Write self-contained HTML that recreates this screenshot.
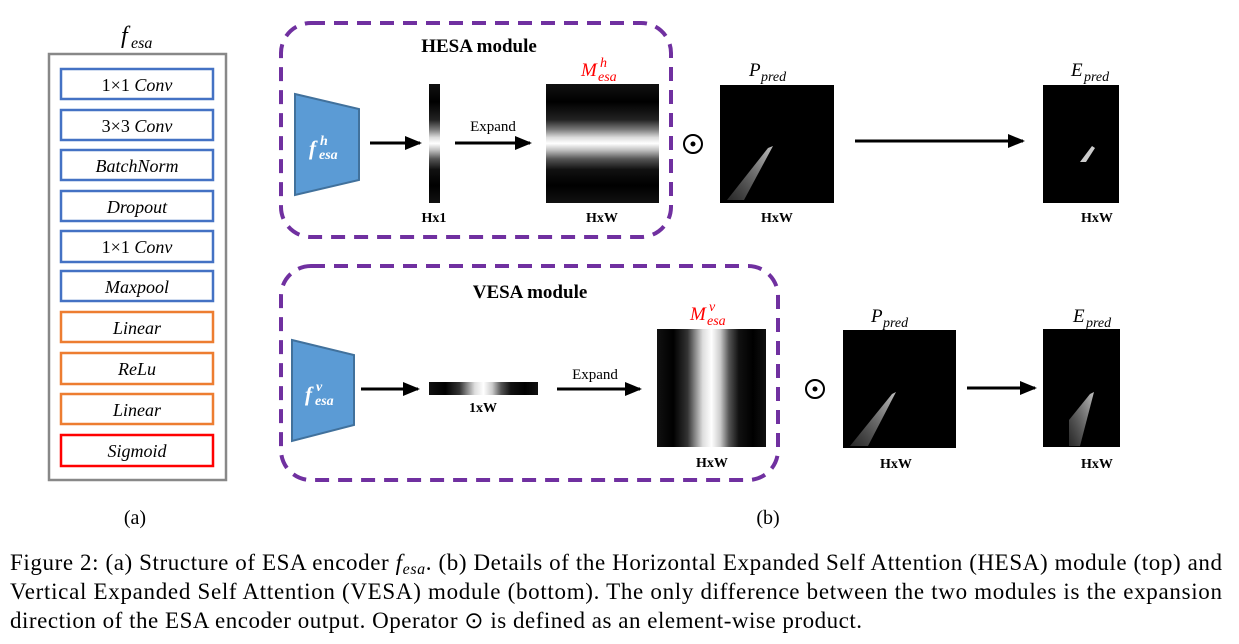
<!DOCTYPE html>
<html><head><meta charset="utf-8"><style>
body{margin:0;background:#fff;}
svg{display:block}
.b{font-family:"Liberation Serif",serif;font-weight:bold;}
.s{font-family:"Liberation Serif",serif;}
.m{font-family:"Liberation Serif",serif;font-style:italic;}
</style></head><body>
<svg width="1239" height="644" viewBox="0 0 1239 644" xmlns="http://www.w3.org/2000/svg">
<defs>
<linearGradient id="gv" x1="0" y1="0" x2="0" y2="1">
<stop offset="0" stop-color="#111"/><stop offset="0.15" stop-color="#000"/><stop offset="0.3" stop-color="#222"/>
<stop offset="0.38" stop-color="#777"/><stop offset="0.45" stop-color="#ddd"/><stop offset="0.5" stop-color="#fff"/>
<stop offset="0.56" stop-color="#bbb"/><stop offset="0.63" stop-color="#555"/><stop offset="0.72" stop-color="#111"/>
<stop offset="0.85" stop-color="#000"/><stop offset="1" stop-color="#111"/>
</linearGradient>
<linearGradient id="gh" x1="0" y1="0" x2="1" y2="0">
<stop offset="0" stop-color="#111"/><stop offset="0.15" stop-color="#000"/><stop offset="0.28" stop-color="#333"/>
<stop offset="0.35" stop-color="#888"/><stop offset="0.42" stop-color="#ddd"/><stop offset="0.5" stop-color="#fff"/>
<stop offset="0.58" stop-color="#ccc"/><stop offset="0.66" stop-color="#555"/><stop offset="0.75" stop-color="#111"/>
<stop offset="0.88" stop-color="#000"/><stop offset="1" stop-color="#111"/>
</linearGradient>
<marker id="ar" markerWidth="18" markerHeight="14" refX="15" refY="7" orient="auto" markerUnits="userSpaceOnUse">
<path d="M0,0 L17,7 L0,14 z" fill="#000"/></marker>
<linearGradient id="streak" x1="0" y1="1" x2="1" y2="0">
<stop offset="0" stop-color="#555" stop-opacity="0.6"/><stop offset="1" stop-color="#eee"/></linearGradient>
</defs>

<!-- left panel -->
<text x="121" y="43" class="m" font-size="24">f</text><text x="131" y="48" class="m" font-size="16">esa</text>
<rect x="49" y="54" width="177" height="426" fill="none" stroke="#888" stroke-width="2.5"/>
<g font-family="Liberation Serif,serif" font-style="italic" font-size="18" text-anchor="middle" fill="#000">
<rect x="61" y="69" width="152" height="30" fill="none" stroke="#4472c4" stroke-width="2.5"/><text x="137" y="91"><tspan font-style="normal">1×1 </tspan>Conv</text>
<rect x="61" y="110" width="152" height="30" fill="none" stroke="#4472c4" stroke-width="2.5"/><text x="137" y="132"><tspan font-style="normal">3×3 </tspan>Conv</text>
<rect x="61" y="150" width="152" height="30" fill="none" stroke="#4472c4" stroke-width="2.5"/><text x="137" y="172">BatchNorm</text>
<rect x="61" y="191" width="152" height="30" fill="none" stroke="#4472c4" stroke-width="2.5"/><text x="137" y="213">Dropout</text>
<rect x="61" y="231" width="152" height="31" fill="none" stroke="#4472c4" stroke-width="2.5"/><text x="137" y="253"><tspan font-style="normal">1×1 </tspan>Conv</text>
<rect x="61" y="271" width="152" height="30" fill="none" stroke="#4472c4" stroke-width="2.5"/><text x="137" y="293">Maxpool</text>
<rect x="61" y="312" width="152" height="30" fill="none" stroke="#ed7d31" stroke-width="2.5"/><text x="137" y="334">Linear</text>
<rect x="61" y="353" width="152" height="31" fill="none" stroke="#ed7d31" stroke-width="2.5"/><text x="137" y="375">ReLu</text>
<rect x="61" y="394" width="152" height="30" fill="none" stroke="#ed7d31" stroke-width="2.5"/><text x="137" y="416">Linear</text>
<rect x="61" y="435" width="152" height="31" fill="none" stroke="#ff0000" stroke-width="2.5"/><text x="137" y="457">Sigmoid</text>
</g>
<text x="135" y="524" class="s" font-size="20" text-anchor="middle">(a)</text>
<text x="768" y="524" class="s" font-size="20" text-anchor="middle">(b)</text>

<!-- HESA -->
<rect x="281" y="23" width="390" height="214" rx="30" fill="none" stroke="#7030a0" stroke-width="4" stroke-dasharray="14,9"/>
<text x="479" y="52" class="b" font-size="19" text-anchor="middle">HESA module</text>
<polygon points="295,94 359,109 359,180 295,195" fill="#5b9bd5" stroke="#41719c" stroke-width="2"/>
<g class="m" fill="#fff" font-weight="bold"><text x="309" y="155" font-size="21">f</text><text x="319" y="159" font-size="14">esa</text><text x="320" y="145" font-size="14">h</text></g>
<line x1="370" y1="143" x2="420" y2="143" stroke="#000" stroke-width="3" marker-end="url(#ar)"/>
<rect x="429" y="84" width="11" height="119" fill="url(#gv)"/>
<text x="434" y="222" class="b" font-size="14" text-anchor="middle">Hx1</text>
<text x="493" y="131" class="s" font-size="15" text-anchor="middle">Expand</text>
<line x1="455" y1="143" x2="530" y2="143" stroke="#000" stroke-width="3" marker-end="url(#ar)"/>
<rect x="546" y="84" width="113" height="119" fill="url(#gv)"/>
<g class="m" fill="#ff0000"><text x="581" y="76" font-size="19">M</text><text x="598" y="81" font-size="14">esa</text><text x="600" y="67" font-size="14">h</text></g>
<text x="602" y="222" class="b" font-size="14" text-anchor="middle">HxW</text>
<circle cx="693" cy="144" r="9" fill="none" stroke="#000" stroke-width="2"/><circle cx="693" cy="144" r="2.5" fill="#000"/>
<rect x="720" y="85" width="114" height="118" fill="#000"/>
<path d="M727,200 L768,148 L773,146 L744,200 z" fill="url(#streak)" opacity="0.8"/>
<g class="m"><text x="749" y="76" font-size="19">P</text><text x="761" y="81" font-size="14">pred</text></g>
<text x="777" y="222" class="b" font-size="14" text-anchor="middle">HxW</text>
<line x1="855" y1="141" x2="1023" y2="141" stroke="#000" stroke-width="3" marker-end="url(#ar)"/>
<rect x="1043" y="85" width="76" height="118" fill="#000"/>
<path d="M1080,162 L1092,146 L1095,148 L1086,162 z" fill="#ccc"/>
<g class="m"><text x="1071" y="76" font-size="19">E</text><text x="1084" y="81" font-size="14">pred</text></g>
<text x="1097" y="222" class="b" font-size="14" text-anchor="middle">HxW</text>

<!-- VESA -->
<rect x="281" y="266" width="497" height="214" rx="30" fill="none" stroke="#7030a0" stroke-width="4" stroke-dasharray="14,9"/>
<text x="530" y="298" class="b" font-size="19" text-anchor="middle">VESA module</text>
<polygon points="292,340 354,355 354,425 292,441" fill="#5b9bd5" stroke="#41719c" stroke-width="2"/>
<g class="m" fill="#fff" font-weight="bold"><text x="305" y="401" font-size="21">f</text><text x="315" y="405" font-size="14">esa</text><text x="316" y="391" font-size="14">v</text></g>
<line x1="361" y1="389" x2="418" y2="389" stroke="#000" stroke-width="3" marker-end="url(#ar)"/>
<rect x="429" y="382" width="109" height="13" fill="url(#gh)"/>
<text x="483" y="412" class="b" font-size="14" text-anchor="middle">1xW</text>
<text x="595" y="379" class="s" font-size="15" text-anchor="middle">Expand</text>
<line x1="557" y1="389" x2="640" y2="389" stroke="#000" stroke-width="3" marker-end="url(#ar)"/>
<rect x="657" y="329" width="109" height="118" fill="url(#gh)"/>
<g class="m" fill="#ff0000"><text x="690" y="320" font-size="19">M</text><text x="707" y="325" font-size="14">esa</text><text x="709" y="311" font-size="14">v</text></g>
<text x="712" y="467" class="b" font-size="14" text-anchor="middle">HxW</text>
<circle cx="815" cy="389" r="9" fill="none" stroke="#000" stroke-width="2"/><circle cx="815" cy="389" r="2.5" fill="#000"/>
<rect x="843" y="330" width="113" height="118" fill="#000"/>
<path d="M850,446 L892,394 L896,392 L868,446 z" fill="url(#streak)" opacity="0.8"/>
<g class="m"><text x="871" y="322" font-size="19">P</text><text x="883" y="327" font-size="14">pred</text></g>
<text x="896" y="468" class="b" font-size="14" text-anchor="middle">HxW</text>
<line x1="967" y1="388" x2="1035" y2="388" stroke="#000" stroke-width="3" marker-end="url(#ar)"/>
<rect x="1043" y="329" width="77" height="118" fill="#000"/>
<path d="M1069,446 L1069,420 L1090,394 L1094,392 L1080,446 z" fill="url(#streak)" opacity="0.8"/>
<g class="m"><text x="1073" y="322" font-size="19">E</text><text x="1086" y="327" font-size="14">pred</text></g>
<text x="1097" y="468" class="b" font-size="14" text-anchor="middle">HxW</text>

<!-- caption -->
<g class="s" font-size="23" font-family="Liberation Serif,serif">
<text x="10" y="570" textLength="1212" lengthAdjust="spacing">Figure 2: (a) Structure of ESA encoder <tspan font-style="italic">f<tspan font-size="16" dy="4">esa</tspan></tspan><tspan dy="-4">. (b) Details of the Horizontal Expanded Self Attention (HESA) module (top) and</tspan></text>
<text x="10" y="599" textLength="1212" lengthAdjust="spacing">Vertical Expanded Self Attention (VESA) module (bottom). The only difference between the two modules is the expansion</text>
<text x="10" y="628" textLength="852" lengthAdjust="spacing">direction of the ESA encoder output. Operator ⊙ is defined as an element-wise product.</text>
</g>
</svg>
</body></html>
